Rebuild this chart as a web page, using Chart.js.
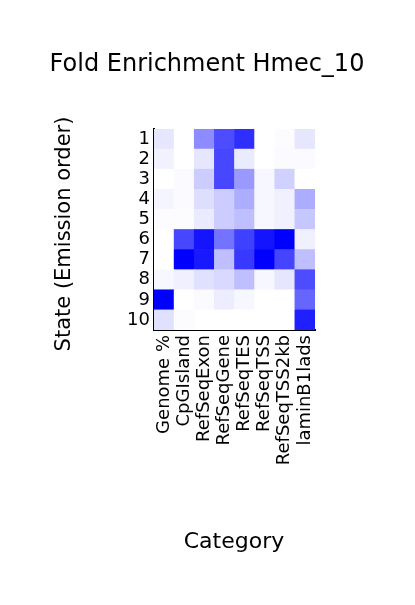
<!DOCTYPE html>
<html><head><script src="https://cdn.jsdelivr.net/npm/chart.js@4"></script>
<style>body{margin:0;background:#fff}#w{width:415px;height:605px}</style></head>
<body><div id="w"><canvas id="c"></canvas></div>
<script>
const categories=["Genome %","CpGIsland","RefSeqExon","RefSeqGene","RefSeqTES","RefSeqTSS","RefSeqTSS2kb","laminB1lads"];
const states=["1","2","3","4","5","6","7","8","9","10"];
const s1=[0.1,0,0.45,0.7,0.82,0,0.01,0.1];
const s2=[0.05,0,0.1,0.72,0.08,0,0.02,0.02];
const s3=[0,0.02,0.2,0.72,0.4,0.03,0.18,0];
const s4=[0.04,0.02,0.13,0.2,0.32,0.03,0.06,0.32];
const s5=[0.01,0.01,0.08,0.2,0.25,0.03,0.06,0.22];
const s6=[0,0.72,0.92,0.55,0.75,0.92,1.0,0.06];
const s7=[0,1.0,0.9,0.25,0.78,1.0,0.73,0.25];
const s8=[0.03,0.06,0.12,0.15,0.25,0.03,0.1,0.7];
const s9=[1.0,0,0.02,0.07,0.03,0,0,0.6];
const s10=[0.12,0.01,0,0,0,0,0,0.88];
const rows=[s1,s2,s3,s4,s5,s6,s7,s8,s9,s10];
function col(v){const c=Math.round(255*(1-v));return `rgb(${c},${c},255)`;}
const datasets=[];
for(let i=rows.length-1;i>=0;i--){
  datasets.push({label:states[i],data:categories.map(()=>1),backgroundColor:rows[i].map(col),borderWidth:0,categoryPercentage:1,barPercentage:1});
}
const F="DejaVu Sans";
const texts={id:'texts',afterDraw(ch){const c=ch.ctx;c.save();c.fillStyle='#000';c.textAlign='center';c.textBaseline='middle';
 c.font=`24px "${F}"`;c.fillText('Fold Enrichment Hmec_10',207,65);
 c.font=`22px "${F}"`;c.fillText('Category',234,542);
 c.translate(65,234);c.rotate(-Math.PI/2);c.font=`21px "${F}"`;c.fillText('State (Emission order)',0,0);c.restore();}};
new Chart(document.getElementById('c'),{type:'bar',data:{labels:categories,datasets},plugins:[texts],
options:{responsive:true,maintainAspectRatio:false,animation:false,
layout:{padding:{left:0,right:100,top:129,bottom:0}},
plugins:{legend:{display:false},tooltip:{enabled:false},title:{display:false}},
scales:{
 x:{stacked:true,grid:{display:false,drawTicks:false},border:{color:'#000',width:2},afterFit:s=>{s.height=275;},
   ticks:{font:{family:F,size:18},color:'#000',maxRotation:90,minRotation:90,padding:5,autoSkip:false}},
 y:{stacked:true,min:0,max:10,grid:{display:false,drawTicks:true,tickLength:3,tickColor:'#000'},border:{color:'#000',width:2},afterFit:s=>{s.width=154;},
   afterBuildTicks:a=>{a.ticks=states.map((s,i)=>({value:9.5-i}));},
   ticks:{font:{family:F,size:18},color:'#000',padding:1,autoSkip:false,callback:(v)=>states[Math.round(9.5-v)]}}
}}});
</script></body></html>
